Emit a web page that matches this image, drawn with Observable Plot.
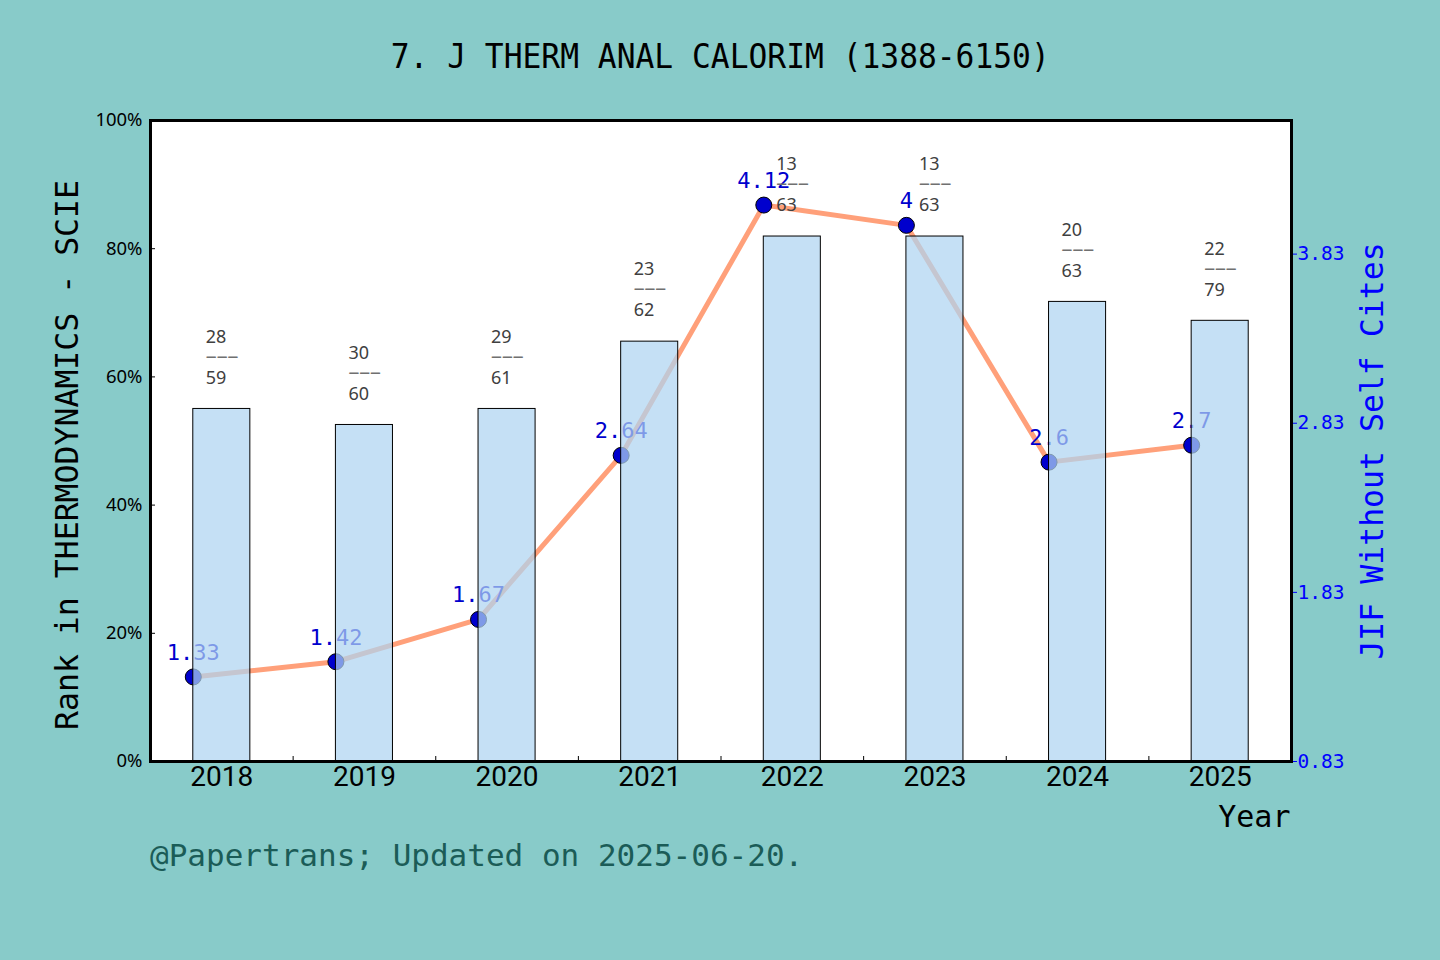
<!DOCTYPE html>
<html><head><meta charset="utf-8">
<script src="https://cdn.jsdelivr.net/npm/d3@7"></script>
<script src="https://cdn.jsdelivr.net/npm/@observablehq/plot@0.6"></script>
<style>
html,body{margin:0;padding:0;background:#88CBC9;width:1440px;height:960px;overflow:hidden}
#title{height:100px;line-height:112px;text-align:center;font-family:"DejaVu Sans Mono",monospace;font-size:34px;color:#000;white-space:pre}
#title span{display:inline-block;transform:scaleX(0.92)}
#chart svg{display:block}
#caption{height:30px;line-height:30px;padding-left:150px;font-family:"DejaVu Sans Mono",monospace;font-size:31px;color:#1B5C57;white-space:pre}
</style></head><body>
<div id="title"><span>7. J THERM ANAL CALORIM (1388-6150)</span></div>
<div id="chart"></div>
<div id="caption">@Papertrans; Updated on 2025-06-20.</div>
<script>
const years = ["2018","2019","2020","2021","2022","2023","2024","2025"];
const jif = [1.33, 1.42, 1.67, 2.64, 4.12, 4, 2.6, 2.7];
const rank = [28, 30, 29, 23, 13, 13, 20, 22];
const total = [59, 60, 61, 62, 63, 63, 63, 79];
const barShare = [0.55, 0.525, 0.55, 0.655, 0.819, 0.819, 0.717, 0.6875];
const leftTicks = [0, 0.2, 0.4, 0.6, 0.8, 1];
const rightTicks = [0.83, 1.83, 2.83, 3.83];
const jifDomain = [0.83, 4.62];

const toY = d3.scaleLinear().domain(jifDomain).range([0, 1]);
const rows = years.map((year, i) => ({i, year, jif: jif[i], rank: rank[i], total: total[i], share: barShare[i], jy: toY(jif[i])}));
const mono = "DejaVu Sans Mono";
const px = d => d.i - 0.2;

const chart = Plot.plot({
  width: 1440, height: 740,
  marginTop: 20, marginBottom: 79, marginLeft: 150, marginRight: 149,
  style: {background: "transparent", overflow: "visible"},
  x: {type: "linear", domain: [-0.5, 7.5]},
  y: {domain: [0, 1]},
  marks: [
    Plot.frame({fill: "white", stroke: null}),
    Plot.line(rows, {x: px, y: "jy", stroke: "#FFA07A", strokeWidth: 5}),
    Plot.dot(rows, {x: px, y: "jy", r: 8, fill: "#0000CD", stroke: "black", strokeWidth: 1}),
    Plot.text(rows, {x: px, y: "jy", text: d => String(d.jif), dy: -24, fill: "#0000CD", fontFamily: mono, fontSize: 22}),
    Plot.rect(rows, {x1: d => d.i - 0.2, x2: d => d.i + 0.2, y1: 0, y2: "share", fill: "#AED4F1", fillOpacity: 0.72, stroke: "black", strokeWidth: 1}),
    Plot.text(rows, {x: "i", y: "share", text: d => String(d.rank), dx: -16, dy: -72, textAnchor: "start", fill: "#404040", fontFamily: "Noto Sans", fontSize: 18}),
    Plot.text(rows, {x: "i", y: "share", text: d => "−−−", dx: -16, dy: -52, textAnchor: "start", fill: "#707070", fontFamily: mono, fontSize: 18}),
    Plot.text(rows, {x: "i", y: "share", text: d => String(d.total), dx: -16, dy: -31, textAnchor: "start", fill: "#404040", fontFamily: "Noto Sans", fontSize: 18}),
    // left axis
    Plot.axisY({anchor: "left", ticks: leftTicks, tickSize: -5, fill: "none", stroke: "black", label: null}),
    Plot.axisY({anchor: "left", ticks: leftTicks, tickSize: 0, tickPadding: 8, tickFormat: d3.format(".0%"), fontSize: 18.5, fontFamily: "Noto Sans", fill: "black", label: null}),
    // right axis
    Plot.axisY({anchor: "right", ticks: rightTicks.map(toY), tickSize: 5, tickPadding: 1, tickFormat: d => toY.invert(d).toFixed(2), stroke: "blue", fill: "blue", fontFamily: mono, fontSize: 19.5, label: null}),
    // bottom axis
    Plot.axisX({anchor: "bottom", ticks: rows.map(d => d.i), tickSize: 0, tickPadding: 5, tickFormat: i => years[i], fontSize: 28, fontFamily: "Roboto", fill: "black", label: null}),
    Plot.axisX({anchor: "bottom", ticks: rows.slice(1).map(d => d.i - 0.5), tickSize: -5, fill: "none", stroke: "black", label: null}),
    // axis titles
    Plot.text(["Rank in THERMODYNAMICS - SCIE"], {text: d => d, frameAnchor: "left", textAnchor: "middle", lineAnchor: "middle", rotate: -90, dx: -83, dy: 14, fontFamily: mono, fontSize: 31.5, fill: "black"}),
    Plot.text(["JIF Without Self Cites"], {text: d => d, frameAnchor: "right", textAnchor: "middle", lineAnchor: "middle", rotate: -90, dx: 81, dy: 10, fontFamily: mono, fontSize: 31.5, fill: "blue"}),
    Plot.text(["Year"], {text: d => d, frameAnchor: "bottom-right", textAnchor: "end", lineAnchor: "middle", dx: -1, dy: 56, fontFamily: mono, fontSize: 30, fill: "black"}),
    Plot.frame({stroke: "black", strokeWidth: 3})
  ]
});
document.getElementById("chart").appendChild(chart);
</script>
</body></html>
